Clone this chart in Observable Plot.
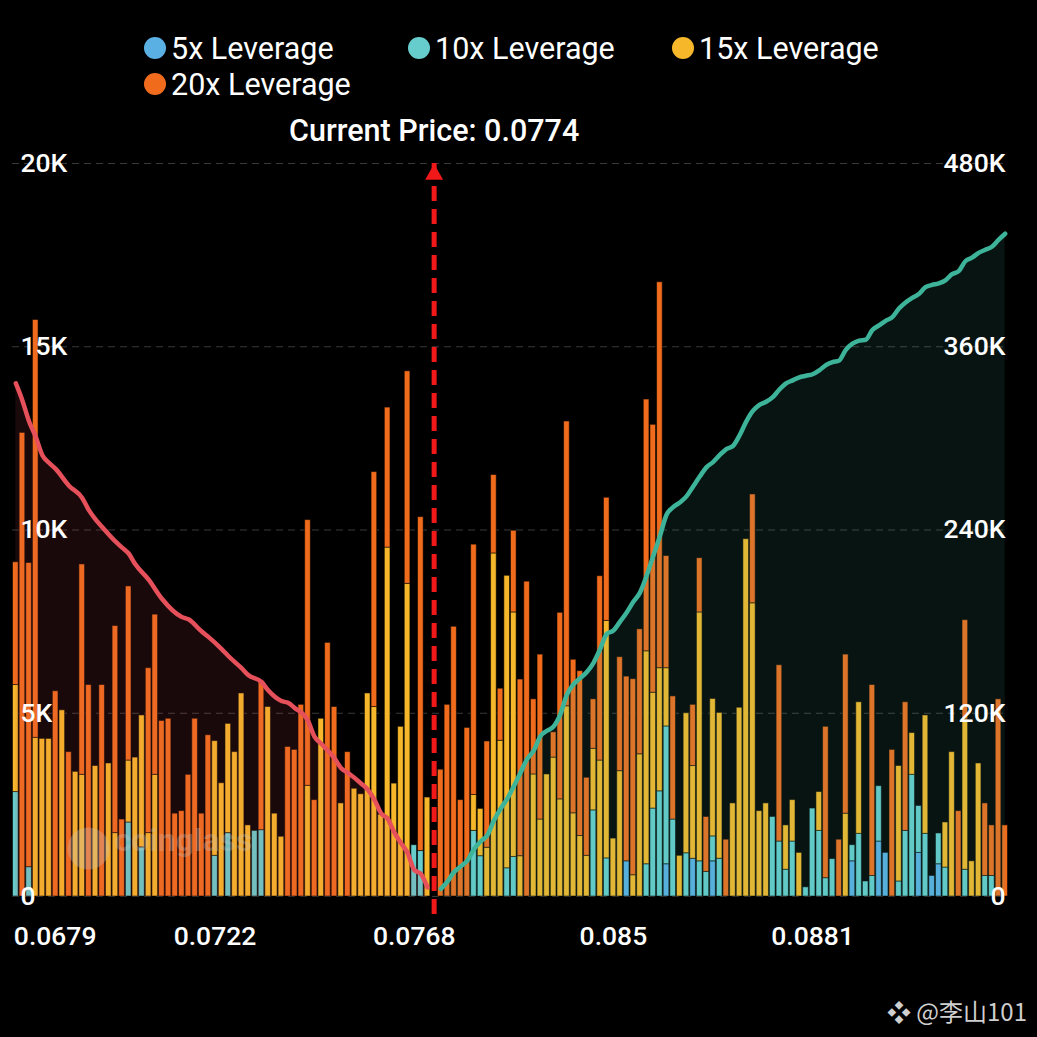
<!DOCTYPE html>
<html>
<head>
<meta charset="utf-8">
<script src="https://cdn.jsdelivr.net/npm/d3@7"></script>
<script src="https://cdn.jsdelivr.net/npm/@observablehq/plot@0.6"></script>
<style>
html, body { margin: 0; padding: 0; background: #000; }
body { width: 1037px; height: 1037px; overflow: hidden; font-family: Roboto, "Noto Sans", sans-serif; color: #fff; }
#legend { width: 1037px; height: 110px; box-sizing: border-box; padding: 30px 0 0 144px; display: flex; flex-wrap: wrap; align-content: flex-start; }
.item { width: 264px; height: 36px; display: flex; align-items: center; font-size: 30.5px; white-space: nowrap; }
.sw { width: 22px; height: 22px; border-radius: 50%; margin-right: 5px; flex: none; }
#footer { height: 62px; box-sizing: border-box; padding: 22px 10px 0 0; text-align: right; font-family: "Noto Sans CJK SC", "DejaVu Sans", sans-serif; font-size: 24px; line-height: 28px; color: #cfcfcf; }
</style>
</head>
<body>
<div id="legend"></div>
<div id="chart"></div>
<div id="footer"></div>
<script>
// ---- data (values in K) ----
const seriesNames = ["5x Leverage", "10x Leverage", "15x Leverage", "20x Leverage"];
const seriesColors = ["#5aafe3", "#66cccc", "#f6b82a", "#f06c1c"];

const lev5 = [
  0,0,0,0,0,0,0,0,0,0,
  0,0,0,0,0,0,0,0,0,0,
  0,0,0,0,0,0,0,0,0,0,
  0,0,0,0,0,0,0,0,0,0,
  0,0,0,0,0,0,0,0,0,0,
  0,0,0,0,0,0,0,0,0,0,
  0,0,0,0,0,0,0,0,0,0,
  0,0,0,0,0,0,0,0,0,0,
  0,0,0,0,0,0,0,0,0,0,
  0,0,0.96,0,0,0,0,0,0.88,0,
  0,0,1.03,0,0,0.96,0,0,0,0,
  0,0,0,0,0,0,0,0,0,0,
  0,0,0,0,0,0,0.96,0,0,0,
  1.5,1.19,0,0,0,0,1.19,0,0.56,0.88,
  0,0,0,0,0,0,0,0,0,0
];
const lev10 = [
  2.85,0,0.8,0,0,0,0,0,0,0,
  0,0,0,0,0,0,0,2.02,0,1.34,
  0,0,0,0,0,0,0,0,0,0,
  1.11,0,1.73,0,0,0,1.79,1.81,0,0,
  0,0,0,0,0,0,0,0,0,0,
  0,0,0,0,0,0,0,0,0,0,
  1.4,1.24,0,0,0,0,0,0,0,1.79,
  1.1,0,0,0,0.77,1.08,0,0,0,0,
  0,0,0,0,0,0,0,2.35,0,1.04,
  0,0,0,0,0,0.88,2.4,2.87,3.76,2.1,
  0,1.18,0,0.96,0.67,0.68,1.03,0,0,0,
  0,0,0,0,2.17,1.5,0.73,1.5,0,0.25,
  2.4,1.79,0.5,1.02,0,0,0.44,1.71,0.41,0.56,
  1.51,0,0,0.41,1.79,3.32,1.28,1.71,0,0.84,
  0.79,0,0,0.73,0,0,0.56,0.56,0,0
];
const lev15 = [
  2.92,0,0,4.33,4.3,4.3,0,5.08,0,3.4,
  3.32,0,3.56,0,3.63,1.73,0,1.69,3.79,3.6,
  1.73,3.32,0,0,0,0,0,0,0,0,
  3.13,3.09,2.98,3.94,5.54,1.94,0,0,5.17,2.26,
  1.63,0,0,0,3.02,0,4.85,0,0,2.54,
  0,2.94,2.79,5.54,5.17,2.23,9.52,3.08,4.63,8.53,
  0,0,2.7,0,0,0,0,0,0,0.98,
  1.29,1.33,9.36,4.25,7.98,6.67,1.1,0,3.33,2.1,
  3.33,3.79,2.65,5.19,2.27,1.65,1.11,1.68,3.71,6.48,
  1.58,3.42,0,0.58,3.88,5.81,3.16,3.36,1.59,0,
  1.11,3.82,2.53,6.79,0,3.75,3.98,0,2.54,5.15,
  9.75,8.0,2.33,2.54,0,0,1.21,1.13,1.19,0,
  0,1.06,0,0,0,2.26,0,3.59,0,0,
  0,0,0,3.15,0,1.14,0,3.23,0,0,
  1.23,3.94,0,4.1,0.96,3.63,0,0,0,0
];
const lev20 = [
  3.35,12.65,8.3,11.4,0,0,5.6,0,3.94,0,
  5.74,5.77,0,5.77,0,5.65,2.1,4.75,0,0,
  4.5,4.37,4.79,4.85,2.26,2.33,3.32,4.85,2.26,4.4,
  0,0,0,0,0,0,0,4.06,0,0,
  0,4.08,4.0,5.23,7.25,2.63,0,6.92,5.17,0,
  3.94,0,0,0,6.41,0,3.82,0,0,5.8,
  0,9.11,0,0,3.46,5.23,7.36,2.63,4.6,6.83,
  0,2.9,2.14,1.42,0,2.23,4.82,8.59,2.05,4.5,
  0,0.69,5.09,7.77,4.19,4.5,2.13,1.35,5.03,3.36,
  0,3.11,5.04,5.35,3.41,6.87,7.31,10.53,3.06,3.36,
  0,0,1.67,1.48,1.5,0,0,1.55,0,0,
  0,2.97,0,0,0,4.81,0,0,0,0,
  0,0,4.13,0,1.55,4.34,0,0,0,5.21,
  0,0,4.0,0,3.51,0,0,0,0,0,
  0,0,2.33,2.71,0,0,1.98,1.38,5.38,1.94
];

// cumulative liquidation (right axis, K)
const shortIdx = [0,1,2,3,4,5,6,8,10,11,12,13,15,16,17,18,20,22,25,26,28,29,31,32,34,35,37,38,40,41,42,44,45,46,48,49,50,52,53,54,55,56,57,58,59,60,61,62];
const shortCum = [336,324.7,311,301,289,284,280,269,261,253,247,242,232.5,228.5,224.6,217.5,207.5,195,183,181.5,173.5,170,162,157.5,149.5,145,140.5,135,128,126.8,123.5,115,104.5,100,90.5,84,81,74,70,63.5,54.5,51,42,35,28.5,17.5,14.8,6];
const longIdx = [64,65,66,67,68,69,70,71,72,73,74,75,76,77,78,79,80,81,82,83,84,85,86,87,88,89,90,91,92,93,94,95,96,97,98,99,100,101,102,103,104,105,106,107,108,109,110,111,112,113,114,115,116,117,118,119,120,121,122,123,124,125,126,127,128,129,130,131,132,133,134,135,136,137,138,139,140,141,142,143,144,145,146,147,148,149];
const longCum = [5,9.8,16,19.7,23.5,31,36,40,49.7,57.4,64,72.2,81,90,95.5,105,108.5,111.4,119.3,132.2,139,143,147,153,162,172,174.2,180,186,193,199,210,223,236,250,255,258,262,268.5,275,281,284.5,289,293,295,302,311,318,322,324,327,332,336,338,340,341,342,344.5,348,350,351,358,362,364,364.6,371,374,377,379.4,385,389,392,394.5,399,400.5,401.5,403.5,407.5,409.5,416,418.3,421.5,423.5,425.5,430,434];

const yTicks = [0, 5, 10, 15, 20];
const leftLabels = ["0", "5K", "10K", "15K", "20K"];
const rightLabels = ["0", "120K", "240K", "360K", "480K"];
const rightPerLeft = 24; // 480K / 20K
const xTicks = [0, 30, 60, 90, 120];
const xLabels = ["0.0679", "0.0722", "0.0768", "0.085", "0.0881"];
const currentIdx = 63;
const currentLabel = "Current Price: 0.0774";

// ---- legend ----
const legend = document.getElementById("legend");
seriesNames.forEach((name, k) => {
  const it = document.createElement("div");
  it.className = "item";
  it.innerHTML = `<span class="sw" style="background:${seriesColors[k]}"></span><span>${name}</span>`;
  legend.appendChild(it);
});
document.getElementById("footer").textContent = "❖ @李山101";

// ---- tables for the library ----
const n = lev5.length;
const seriesVals = [lev5, lev10, lev15, lev20];
const segs = [];
for (let i = 0; i < n; i++) {
  let base = 0;
  seriesVals.forEach((arr, s) => {
    const v = arr[i];
    if (v > 0) segs.push({i, series: seriesNames[s], y1: base, y2: base + v});
    base += v;
  });
}
const shortLine = shortIdx.map((i, k) => ({i, v: shortCum[k] / rightPerLeft}));
const longLine = longIdx.map((i, k) => ({i, v: longCum[k] / rightPerLeft}));

const red = "#e5505b", teal = "#3db49a", priceRed = "#f01818";

const chart = Plot.plot({
  width: 1037,
  height: 865,
  marginLeft: 12,
  marginRight: 29,
  marginTop: 53,
  marginBottom: 79,
  style: {background: "#000", color: "#fff", fontFamily: "Roboto, sans-serif", overflow: "visible"},
  x: {domain: [-0.5, n - 0.5], axis: null},
  y: {domain: [0, 20], axis: null},
  color: {domain: seriesNames, range: seriesColors},
  marks: [
    Plot.gridY(yTicks, {stroke: "#3a3a3a", strokeOpacity: 1, strokeWidth: 1.2, strokeDasharray: "7,5"}),
    Plot.rect(segs, {
      x1: d => d.i - 0.5, x2: d => d.i + 0.5, y1: "y1", y2: "y2",
      fill: "series", stroke: "#000", strokeOpacity: 0.55, strokeWidth: 1,
      insetLeft: 0.5, insetRight: 0.5
    }),
    Plot.areaY(shortLine, {x: "i", y: "v", fill: red, fillOpacity: 0.11, curve: "monotone-x"}),
    Plot.areaY(longLine, {x: "i", y: "v", fill: teal, fillOpacity: 0.11, curve: "monotone-x"}),
    Plot.line(shortLine, {x: "i", y: "v", stroke: red, strokeWidth: 4.5, curve: "monotone-x"}),
    Plot.line(longLine, {x: "i", y: "v", stroke: teal, strokeWidth: 4.5, curve: "monotone-x"}),
    Plot.ruleX([currentIdx], {y1: 0, y2: 20, stroke: priceRed, strokeWidth: 5, strokeDasharray: "15,8", insetTop: 18}),
    Plot.dot([currentIdx], {x: d => d, y: 20, dy: 11, symbol: "triangle", r: 6.7, fill: priceRed}),
    Plot.text([currentLabel], {x: currentIdx, y: 20, dy: -32, text: d => d, fontSize: 30.5, fontWeight: 500, fill: "#fff"}),
    Plot.text(["coinglass"], {frameAnchor: "bottom-left", dx: 102, dy: -46, textAnchor: "start", text: d => d, fontSize: 32, fontWeight: 700, fill: "#c8c8c8", fillOpacity: 0.3}),
    Plot.dot(["logo"], {frameAnchor: "bottom-left", dx: 76, dy: -48, r: 21, fill: "#c8c8c8", fillOpacity: 0.3}),
    Plot.axisY({ticks: yTicks, tickFormat: d => leftLabels[yTicks.indexOf(d)], anchor: "left", label: null,
      tickSize: 0, tickPadding: 3, textAnchor: "start", dx: 11, fontSize: 26.5, fontWeight: 500}),
    Plot.axisY({ticks: yTicks, tickFormat: d => rightLabels[yTicks.indexOf(d)], anchor: "right", label: null,
      tickSize: 0, tickPadding: 3, textAnchor: "end", dx: -6, fontSize: 26.5, fontWeight: 500}),
    Plot.axisX({ticks: xTicks.slice(0, 1), tickFormat: d => xLabels[xTicks.indexOf(d)], anchor: "bottom", label: null,
      tickSize: 0, tickPadding: 30, textAnchor: "start", dx: -2, fontSize: 26.5, fontWeight: 500}),
    Plot.axisX({ticks: xTicks.slice(1), tickFormat: d => xLabels[xTicks.indexOf(d)], anchor: "bottom", label: null,
      tickSize: 0, tickPadding: 30, fontSize: 26.5, fontWeight: 500})
  ]
});
document.getElementById("chart").appendChild(chart);
</script>
</body>
</html>
